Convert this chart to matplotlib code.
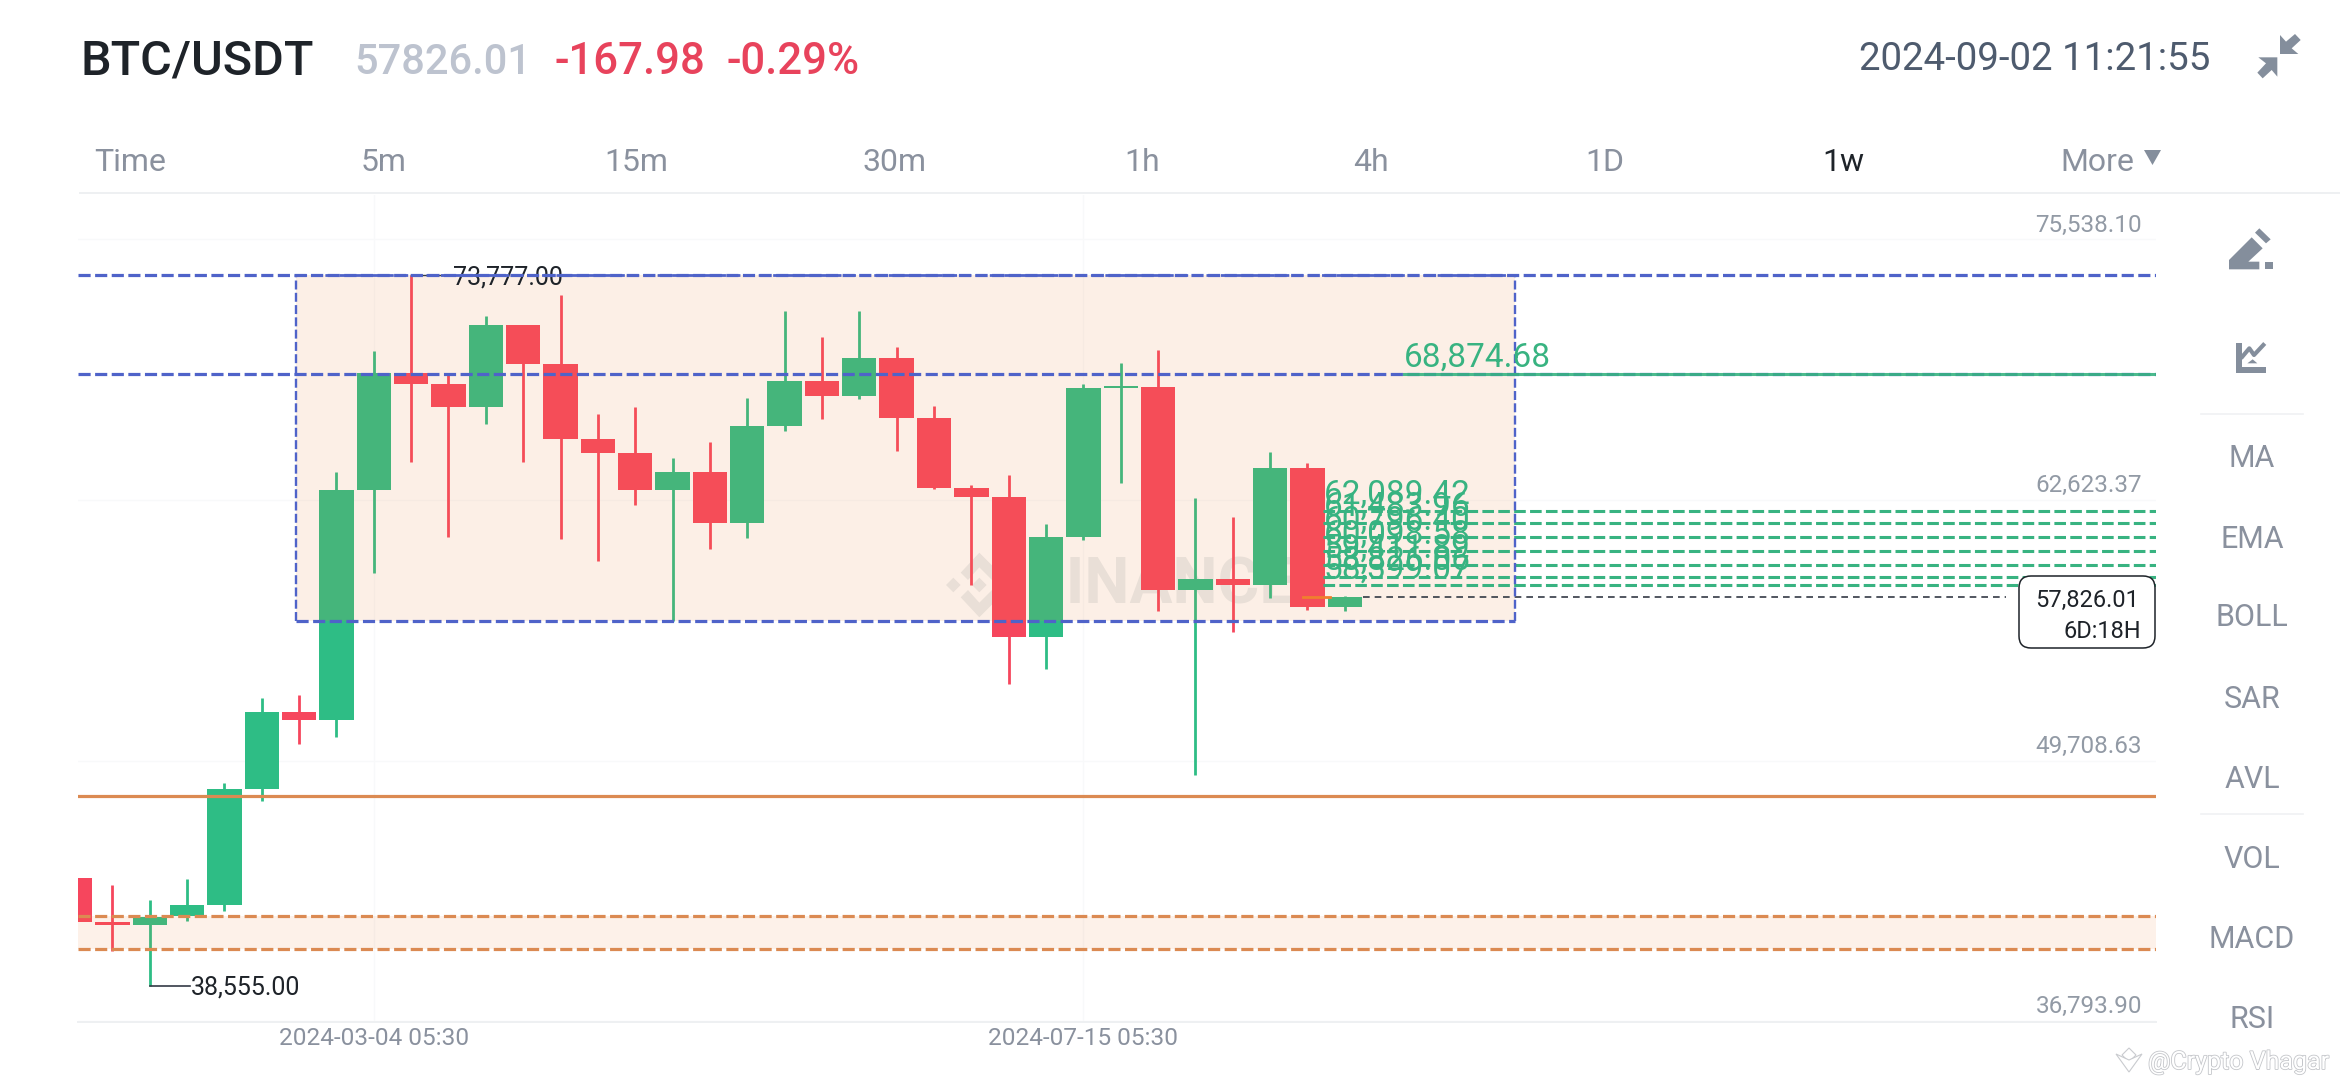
import matplotlib
matplotlib.use("Agg")
import matplotlib.pyplot as plt
from matplotlib.patches import Polygon, Rectangle, FancyBboxPatch
from matplotlib.transforms import ScaledTranslation
import matplotlib.patheffects as pe

plt.rcParams['font.family'] = ['Roboto', 'DejaVu Sans']

# weekly candles
opens = [43907, 41697, 41563, 42009, 42554, 48303, 52119, 51723, 63122, 68905, 68390, 67220,
         71284, 69366, 65664, 64940, 63122, 64014, 61486, 66279, 68509, 67780, 69649, 66690,
         63206, 62775, 55851, 60777, 68162, 68241, 58166, 58696, 58413, 64212, 57308]
closes = [41727, 41563, 41974, 42554, 48288, 52119, 51723, 63122, 68905, 68390, 67220, 71284,
          69366, 65664, 64940, 63122, 64014, 61486, 66279, 68509, 67780, 69649, 66690, 63206,
          62775, 55851, 60777, 68162, 68276, 58166, 58696, 58413, 64212, 57308, 57826]
highs = [43907, 43545, 42802, 43858, 48586, 52798, 52962, 63999, 69996, 73777, 68905, 71760,
         71284, 72786, 66873, 67220, 64722, 65500, 67696, 71993, 70689, 71993, 70209, 67299,
         63369, 63865, 61422, 68360, 69401, 70060, 62740, 61783, 64990, 64475, 57883]
lows = [41727, 40289, 38555, 41776, 42242, 47694, 50519, 50895, 58993, 64524, 60777, 66393,
        64494, 60678, 59603, 62378, 56629, 60183, 60743, 66061, 66655, 67617, 65069, 63171,
        58413, 53492, 54265, 60644, 63454, 57125, 48997, 56099, 57784, 57189, 57125]

# drawn levels
blue_levels = [73777, 68874.68]
rect_top, rect_bottom = 73777, 56629
rect_left, rect_right = 5.906, 38.56
orange_solid = 47971
orange_dashed = [41994, 40359]
green_level = 68874.68
green_levels = [62089.42, 61483.96, 60796.40, 60098.58, 59411.89, 58826.06, 58399.07]
green_labels = ['62,089.42', '61,483.96', '60,796.40', '60,098.58', '59,411.89', '58,826.06', '58,399.07']
last_price = 57826.01

grid_prices = [75538.10, 62623.37, 49708.63, 36793.90]
price_labels = ['75,538.10', '62,623.37', '49,708.63', '36,793.90']
date_ticks = [8, 27]
date_labels = ['2024-03-04 05:30', '2024-07-15 05:30']

tabs = ['Time', '5m', '15m', '30m', '1h', '4h', '1D', '1w', 'More']
tab_x = [130, 384, 636, 895, 1142, 1371, 1605, 1843, 2097]
side_labels = ['MA', 'EMA', 'BOLL', 'SAR', 'AVL', 'VOL', 'MACD', 'RSI']
side_y = [458.5, 539, 618, 699, 779, 860, 939, 1019.5]

GREEN = '#2EBD85'
RED = '#F6465D'
BLUE = '#4F63C9'
ORANGE = '#DB8A52'
LINE_GREEN = '#38B381'
BAND = '#EE8237'
GREY = '#8A919E'
ICON = '#848E9C'
W, H = 2340, 1080


def px_axes(fig, z):
    a = fig.add_axes([0, 0, 1, 1], zorder=z)
    a.set_xlim(0, W)
    a.set_ylim(H, 0)
    a.axis('off')
    a.patch.set_alpha(0)
    return a


def poly(a, pts, ox, oy, s=3.0, color=ICON):
    a.add_patch(Polygon([(ox + x / s, oy + y / s) for x, y in pts], closed=True, fc=color, ec='none'))


fig = plt.figure(figsize=(W / 100, H / 100), dpi=100, facecolor='white')

# watermark sits under the chart
bg = px_axes(fig, 0)
wm = '#E9EDEE'
bg.text(1160, 586, 'BINANCE', color=wm, fontsize=46, fontweight='bold', ha='center', va='center')
poly(bg, [(148, 113), (170, 135), (148, 157), (126, 135)], 930, 540, color=wm)
poly(bg, [(70, 113), (92, 135), (70, 157), (48, 135)], 930, 540, color=wm)
poly(bg, [(226, 113), (248, 135), (226, 157), (204, 135)], 930, 540, color=wm)
poly(bg, [(148, 38), (214, 104), (192, 126), (148, 82), (114, 120), (92, 98)], 930, 540, color=wm)
poly(bg, [(148, 232), (214, 166), (192, 144), (148, 188), (114, 150), (92, 172)], 930, 540, color=wm)

# main chart
ax = fig.add_axes([78 / W, 1 - 1021.7 / H, (2156 - 78) / W, (1021.7 - 195) / H], zorder=1)
ax.patch.set_alpha(0)
ax.set_xlim(0.08, 55.72)
ax.set_ylim(36771, 77742)

for i in range(len(opens)):
    c = GREEN if closes[i] >= opens[i] else RED
    ax.vlines(i, lows[i], highs[i], color=c, lw=2.0, zorder=2)
    ax.bar(i, abs(closes[i] - opens[i]), bottom=min(opens[i], closes[i]), width=0.92, color=c, lw=0, zorder=2)

ax.add_patch(Rectangle((rect_left, rect_bottom), rect_right - rect_left, rect_top - rect_bottom,
                       fc=BAND, alpha=0.12, ec='none', zorder=3))
ax.axhspan(orange_dashed[1], orange_dashed[0], fc=BAND, alpha=0.11, ec='none', zorder=3)

# levels
dash = (0, (3.8, 1.4))
for lv in blue_levels:
    ax.axhline(lv, color=BLUE, lw=2.3, ls=dash, zorder=5)
ax.plot([rect_left, rect_right], [rect_top, rect_top], color=BLUE, lw=2.0, ls=dash, zorder=5)
ax.plot([rect_left, rect_right], [rect_bottom, rect_bottom], color=BLUE, lw=2.3, ls=dash, zorder=5)
ax.plot([rect_left, rect_left], [rect_bottom, rect_top], color=BLUE, lw=1.7, ls=dash, zorder=5)
ax.plot([rect_right, rect_right], [rect_bottom, rect_top], color=BLUE, lw=1.7, ls=dash, zorder=5)
ax.plot([35.58, 55.72], [green_level, green_level], color=LINE_GREEN, lw=2.2, alpha=0.9, zorder=6)
ax.axhline(orange_solid, color=ORANGE, lw=2.3, zorder=4)
for lv in orange_dashed:
    ax.axhline(lv, color=ORANGE, lw=2.3, ls=dash, zorder=4)
for lv in green_levels:
    ax.plot([33.41, 55.72], [lv, lv], color=LINE_GREEN, lw=2.2, ls=dash, zorder=4)
ax.plot([34.48, 51.7], [last_price, last_price], color='#333A45', lw=1.2, ls=(0, (4, 3)), zorder=4)
ax.plot([32.88, 33.6], [last_price, last_price], color='#F07F2E', lw=2.0, zorder=6)

# level labels
for lv, txt in zip(green_levels, green_labels):
    ax.annotate(txt, (33.41, lv), xytext=(1, 7), textcoords='offset pixels', color=LINE_GREEN,
                fontsize=24, va='baseline', ha='left', zorder=7)
ax.annotate('68,874.68', (35.58, green_level), xytext=(0, 7), textcoords='offset pixels', color=LINE_GREEN,
            fontsize=24, va='baseline', ha='left', zorder=7)

# high / low markers
ax.plot([9, 10.1], [73777, 73777], color='#333A45', lw=1.0, zorder=4)
ax.annotate('73,777.00', (10.13, 73777), xytext=(0, -2), textcoords='offset pixels', color='#1E2329',
            fontsize=18, va='center', ha='left', zorder=4)
ax.plot([2, 3.07], [38555, 38555], color='#333A45', lw=1.2, zorder=4)
ax.annotate('38,555.00', (3.1, 38555), xytext=(0, -2), textcoords='offset pixels', color='#1E2329',
            fontsize=18, va='center', ha='left', zorder=4)

# axes
for s in ['top', 'left', 'right']:
    ax.spines[s].set_visible(False)
ax.spines['bottom'].set_color('#EEF0F2')
ax.spines['bottom'].set_linewidth(1.4)
ax.set_xticks(date_ticks)
ax.set_xticklabels(date_labels, fontsize=17.6, color=GREY)
ax.yaxis.tick_right()
ax.set_yticks(grid_prices)
ax.set_yticklabels(price_labels, fontsize=17.5, color='#929AA5', ha='right', va='bottom')
ax.tick_params(axis='x', length=0, pad=4.1)
ax.tick_params(axis='y', length=0, pad=-10)
up = ScaledTranslation(0, 3 / 100, fig.dpi_scale_trans)
for lab in ax.get_yticklabels():
    lab.set_transform(lab.get_transform() + up)
ax.grid(True, color='#F8F9FA', lw=1.0, zorder=0)
ax.set_axisbelow(True)

# header, tabs, side panel
top = px_axes(fig, 2)
top.text(81, 62, 'BTC/USDT', color='#1E2329', fontsize=35, fontweight='medium', va='center', ha='left')
top.text(354, 62, '57826.01', color='#BDC3CF', fontsize=30, fontweight='medium', va='center', ha='left')
top.text(555, 62, '-167.98', color='#E8435C', fontsize=31.5, fontweight='medium', va='center', ha='left')
top.text(727, 62, '-0.29%', color='#E8435C', fontsize=31.5, fontweight='medium', va='center', ha='left')
top.text(2210, 59, '2024-09-02 11:21:55', color='#4E5B6E', fontsize=27.7, va='center', ha='right')
poly(top, [(120, 45), (138, 65), (165, 42), (182, 60), (155, 85), (175, 102), (120, 102)], 2240, 20)
poly(top, [(55, 112), (112, 112), (112, 170), (95, 150), (68, 175), (52, 158), (78, 130)], 2240, 20)

for t, x in zip(tabs, tab_x):
    top.text(x, 162.5, t, color='#1E2329' if t == '1w' else GREY, fontsize=23, va='center', ha='center')
poly(top, [(2144, 150), (2161, 150), (2152.5, 165)], 0, 0, s=1.0)
top.plot([80, 2340], [193, 193], color='#EEF0F2', lw=1.4)

for t, y in zip(side_labels, side_y):
    top.text(2252, y, t, color=GREY, fontsize=22, va='center', ha='center')
top.plot([2201, 2303], [413.5, 413.5], color='#F0F1F3', lw=1.2)
top.plot([2201, 2303], [814, 814], color='#F0F1F3', lw=1.2)

# pencil and chart icons
poly(top, [(57, 150), (125, 82), (158, 115), (115, 155), (148, 155), (148, 178), (57, 178)], 2210, 210)
poly(top, [(135, 68), (148, 55), (182, 88), (168, 100)], 2210, 210)
poly(top, [(165, 155), (188, 155), (188, 178), (165, 178)], 2210, 210)
poly(top, [(78, 400), (95, 400), (95, 470), (167, 470), (167, 488), (78, 488)], 2210, 210)
poly(top, [(112, 460), (128, 448), (142, 460)], 2210, 210)
top.plot([2210 + 97 / 3, 2210 + 118 / 3, 2210 + 132 / 3, 2210 + 160 / 3],
         [210 + 440 / 3, 210 + 415 / 3, 210 + 435 / 3, 210 + 405 / 3], color=ICON, lw=3.0)

# last price box
top.add_patch(FancyBboxPatch((2027, 584), 120, 56, boxstyle='round,pad=8,rounding_size=12',
                             fc='white', ec='#1E2329', lw=1.1))
top.text(2139, 600, '57,826.01', color='#1E2329', fontsize=17, va='center', ha='right')
top.text(2141, 631, '6D:18H', color='#1E2329', fontsize=17, va='center', ha='right')

# source mark
top.text(2148, 1062, '@Crypto Vhagar', color='white', fontsize=18, va='center', ha='left',
         path_effects=[pe.withStroke(linewidth=1.2, foreground='#C4C6CA')])
for pts in ([(2129, 1048), (2136, 1055), (2129, 1062), (2122, 1055)],
            [(2129, 1060), (2142, 1054), (2129, 1072), (2116, 1054)]):
    top.add_patch(Polygon(pts, closed=True, fc='white', ec='#C9CBCF', lw=0.8))

fig.savefig('out.png', dpi=100)
